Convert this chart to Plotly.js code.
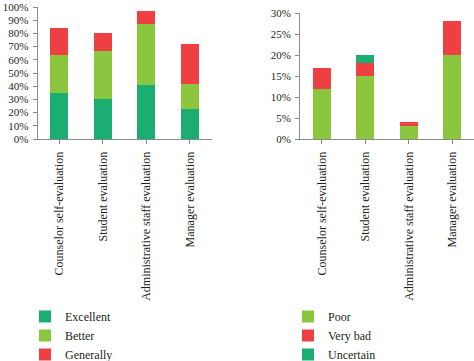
<!DOCTYPE html>
<html>
<head>
<meta charset="utf-8">
<script src="https://cdn.plot.ly/plotly-3.0.1.min.js"></script>
<style>html,body{margin:0;padding:0;background:#fff;}#chart{width:474px;height:361px;}</style>
</head>
<body>
<div id="chart"></div>
<script>
const categories = ["Counselor self-evaluation", "Student evaluation", "Administrative staff evaluation", "Manager evaluation"];
// Left chart (percent)
const excellent = [35, 30, 41, 22.5];
const better = [29, 36.5, 46, 19.5];
const generally = [20, 14, 10, 30];
// Right chart (percent)
const poor = [12, 15, 3, 20];
const veryBad = [5, 3, 1, 8];
const uncertain = [0, 2, 0, 0];
const leftTicks = [0,10,20,30,40,50,60,70,80,90,100];
const rightTicks = [0,5,10,15,20,25,30];

const TEAL = "#1BAE72", LIME = "#8CC63F", RED = "#EE4042";
const FAM = "Liberation Serif, DejaVu Serif, serif";
const font = {family: FAM, size: 11, color: "#231f20"};

function bar(name, y, color, xa, ya, legend) {
  return {type: "bar", name: name, x: categories, y: y, xaxis: xa, yaxis: ya,
    marker: {color: color, line: {width: 0}}, legend: legend,
    hoverinfo: "skip"};
}

const data = [
  bar("Excellent", excellent, TEAL, "x", "y", "legend"),
  bar("Better", better, LIME, "x", "y", "legend"),
  bar("Generally", generally, RED, "x", "y", "legend"),
  bar("Poor", poor, LIME, "x2", "y2", "legend2"),
  bar("Very bad", veryBad, RED, "x2", "y2", "legend2"),
  bar("Uncertain", uncertain, TEAL, "x2", "y2", "legend2")
];

const axisCommon = {showgrid: false, zeroline: false, showline: true, linecolor: "#8a8a8a", linewidth: 1,
  ticks: "outside", ticklen: 4, tickcolor: "#8a8a8a", tickfont: font, fixedrange: true};
const catFont = {family: FAM, size: 12, color: "#231f20"};

const layout = {
  width: 474, height: 361,
  margin: {l: 0, r: 0, t: 0, b: 0, autoexpand: false},
  paper_bgcolor: "#fff", plot_bgcolor: "#fff",
  barmode: "stack", bargap: 0.58,
  font: font,
  xaxis: Object.assign({}, axisCommon, {domain: [37.5/474, 211.5/474], anchor: "y", tickangle: -90, type: "category", tickfont: catFont, ticklabelstandoff: 3}),
  yaxis: Object.assign({}, axisCommon, {domain: [1-139/361, 1-7/361], anchor: "x", range: [0, 100],
    tickvals: leftTicks, ticktext: leftTicks.map(v => v + "%"), ticklabelstandoff: 2}),
  xaxis2: Object.assign({}, axisCommon, {domain: [300/474, 1], anchor: "y2", tickangle: -90, type: "category", tickfont: catFont, ticklabelstandoff: 3}),
  yaxis2: Object.assign({}, axisCommon, {domain: [1-139/361, 1-13/361], anchor: "x2", range: [0, 30],
    tickvals: rightTicks, ticktext: rightTicks.map(v => v + "%"), ticklabelstandoff: 2}),
  legend: {x: 25/474, y: 1-302/361, xanchor: "left", yanchor: "top", traceorder: "normal",
    font: {family: FAM, size: 12, color: "#231f20"}, bgcolor: "rgba(0,0,0,0)", tracegroupgap: 0},
  legend2: {x: 288/474, y: 1-302/361, xanchor: "left", yanchor: "top", traceorder: "normal",
    font: {family: FAM, size: 12, color: "#231f20"}, bgcolor: "rgba(0,0,0,0)", tracegroupgap: 0},
  showlegend: true
};

Plotly.newPlot("chart", data, layout, {displayModeBar: false, staticPlot: true});
</script>
</body>
</html>
